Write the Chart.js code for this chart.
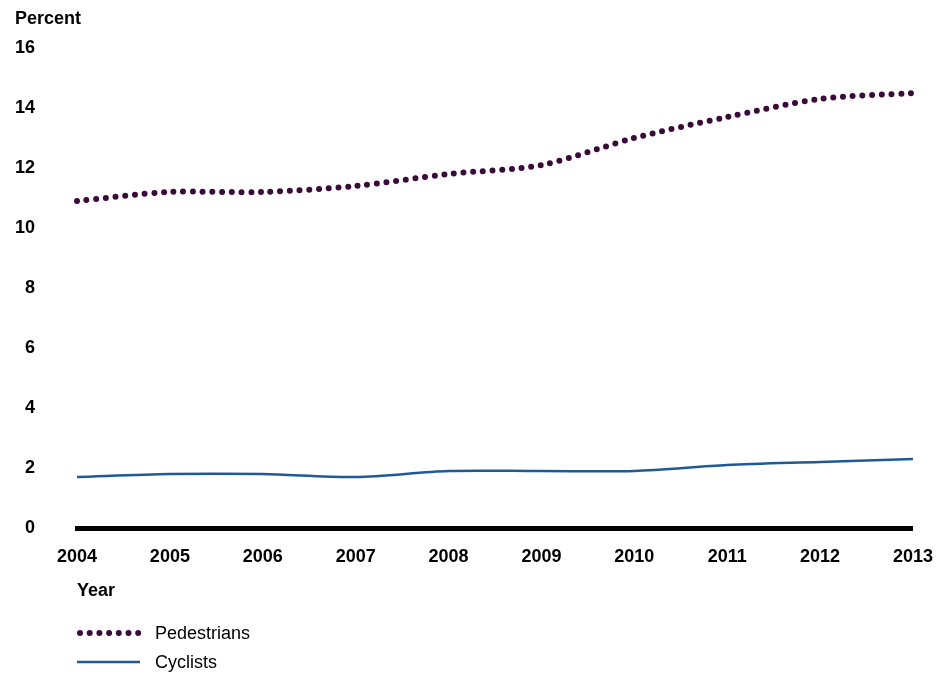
<!DOCTYPE html>
<html>
<head>
<meta charset="utf-8">
<script src="https://cdn.jsdelivr.net/npm/chart.js@4/dist/chart.umd.min.js"></script>
<style>
  body { margin: 0; background: #fff; font-family: "Liberation Sans", Arial, sans-serif; }
  #wrap { position: relative; width: 951px; height: 675px; }
  .lbl { position: absolute; font-weight: bold; font-size: 18px; color: #000; line-height: 1; }
  .leg { position: absolute; left: 77px; font-size: 18px; line-height: 1; display: flex; align-items: center; }
  .leg svg { margin-right: 14px; }
</style>
</head>
<body>
<div id="wrap">
  <canvas id="myChart" width="951" height="675"></canvas>
  <div class="lbl" style="left:15px; top:9px;">Percent</div>
  <div class="lbl" style="left:77px; top:581px;">Year</div>
  <div class="leg" style="top:624px;">
    <svg width="64" height="10"><line x1="3" y1="5" x2="62" y2="5" stroke="#3a0b3a" stroke-width="6" stroke-linecap="round" stroke-dasharray="0 9.7"/></svg>
    <span>Pedestrians</span>
  </div>
  <div class="leg" style="top:653px;">
    <svg width="64" height="10"><line x1="0" y1="5" x2="63" y2="5" stroke="#1f5a96" stroke-width="2.5"/></svg>
    <span>Cyclists</span>
  </div>
</div>
<script>
const years = ['2004', '2005', '2006', '2007', '2008', '2009', '2010', '2011', '2012', '2013'];
const pedestrians = [10.9, 11.2, 11.2, 11.4, 11.8, 12.1, 13.0, 13.7, 14.3, 14.5];
const cyclists = [1.7, 1.8, 1.8, 1.7, 1.9, 1.9, 1.9, 2.1, 2.2, 2.3];
const yTicks = [0, 2, 4, 6, 8, 10, 12, 14, 16];

const ctx = document.getElementById('myChart');
const tickFont = { size: 18, weight: 'bold', family: "'Liberation Sans', Arial, sans-serif" };

const data = {
  labels: years,
  datasets: [{
    label: 'Pedestrians',
    data: pedestrians,
    borderColor: '#3a0b3a',
    borderWidth: 6,
    borderDash: [0, 9.7],
    borderCapStyle: 'round',
    pointRadius: 0,
    tension: 0.3
  }, {
    label: 'Cyclists',
    data: cyclists,
    borderColor: '#1f5a96',
    borderWidth: 2.5,
    pointRadius: 0,
    tension: 0.3
  }]
};

const config = {
  type: 'line',
  data: data,
  options: {
    responsive: false,
    animation: false,
    layout: { padding: { top: 48, right: 38, bottom: 107, left: 0 } },
    plugins: {
      legend: { display: false },
      tooltip: { enabled: false }
    },
    scales: {
      x: {
        offset: false,
        grid: { display: false, drawTicks: false },
        border: { display: true, color: '#000', width: 5 },
        ticks: { color: '#000', font: tickFont, padding: 18, maxRotation: 0 },
        afterFit: s => { s.height = 40; }
      },
      y: {
        min: 0,
        max: 16,
        afterBuildTicks: s => { s.ticks = yTicks.map(v => ({ value: v })); },
        // invisible tick marks push the labels out to the left edge
        grid: { display: true, drawOnChartArea: false, drawTicks: true, tickLength: 38, tickColor: 'rgba(0,0,0,0)', color: 'rgba(0,0,0,0)' },
        border: { display: false },
        ticks: { color: '#000', font: tickFont, padding: 4 },
        afterFit: s => { s.width = 77; }
      }
    }
  }
};
const myChart = new Chart(ctx, config);
</script>
</body>
</html>
